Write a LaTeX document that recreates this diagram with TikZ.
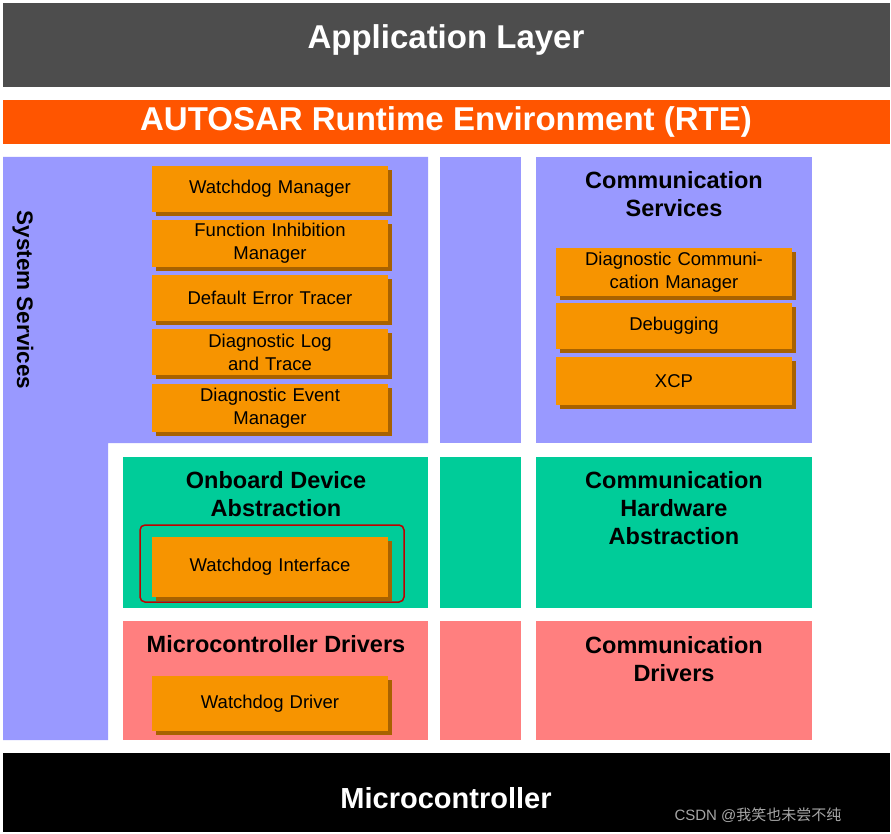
\documentclass[tikz,border=0pt]{standalone}
\usepackage{fontspec}
\setmainfont{Liberation Sans}
\newfontfamily\cjk{Noto Sans CJK SC}
\definecolor{appg}{HTML}{4D4D4D}
\definecolor{rte}{HTML}{FF5500}
\definecolor{purp}{HTML}{9999FF}
\definecolor{grn}{HTML}{00CC99}
\definecolor{pnk}{HTML}{FF7F7F}
\definecolor{org}{HTML}{F79400}
\definecolor{orgd}{HTML}{A86200}
\begin{document}
\begin{tikzpicture}[x=1pt,y=-1pt,
  box/.style={fill=org,draw=none,minimum width=236pt,text width=234pt,align=center,inner sep=0pt,font=\fontsize{18.5}{23}\selectfont},
  head/.style={align=center,font=\fontsize{23.5}{28}\selectfont\bfseries},
  big/.style={font=\fontsize{33}{38}\selectfont\bfseries,text=white}]
\useasboundingbox (0,0) rectangle (891,834);
\fill[white] (0,0) rectangle (891,834);
\fill[appg] (3,3) rectangle (890,87);
\node[big] (app) at (446,40) {Application Layer};
\fill[rte] (3,100) rectangle (890,144);
\node[big,font=\fontsize{33}{36}\selectfont\bfseries] (rtel) at (446,122) {AUTOSAR Runtime Environment (RTE)};
\fill[purp] (3,157) -- (428,157) -- (428,443) -- (108,443) -- (108,740) -- (3,740) -- cycle;
\node[rotate=-90,font=\fontsize{22.5}{26}\selectfont\bfseries] (ss) at (23,300) {System Services};
\fill[purp] (440,157) rectangle (521,443);
\fill[purp] (536,157) rectangle (812,443);
\fill[grn] (123,457) rectangle (428,608);
\fill[grn] (440,457) rectangle (521,608);
\fill[grn] (536,457) rectangle (812,608);
\fill[pnk] (123,621) rectangle (428,740);
\fill[pnk] (440,621) rectangle (521,740);
\fill[pnk] (536,621) rectangle (812,740);
\fill[black] (3,753) rectangle (890,832);
\node[big,font=\fontsize{29}{33}\selectfont\bfseries] (mc) at (446,798) {Microcontroller};
% orange boxes
\foreach \n/\x/\ya/\yb/\t in {
  wm/152/166/212/{Watchdog Manager},
  fim/152/220/267/{Function Inhibition\\Manager},
  det/152/275/321/{Default Error Tracer},
  dlt/152/329/375/{Diagnostic Log\\and Trace},
  dem/152/384/432/{Diagnostic Event\\Manager},
  dcm/556/248/296/{Diagnostic Communi-\\cation Manager},
  dbg/556/303/349/{Debugging},
  xcp/556/357/405/{XCP},
  wdi/152/537/597/{Watchdog Interface},
  wdd/152/676/731/{Watchdog Driver}}{
  \fill[orgd] (\x+4,\ya+4) rectangle (\x+240,\yb+4);
  \node[box,minimum height=\yb-\ya] (\n) at (\x+118,{(\ya+\yb)/2}) {\t};
}
\node[draw=red!75!black,line width=1.5pt,rounded corners=5pt,minimum width=264pt,minimum height=77pt] (wdframe) at (272,563.5) {};
\node[head] (cs) at (674,194) {Communication\\Services};
\node[head] (oda) at (276,494) {Onboard Device\\Abstraction};
\node[head] (cha) at (674,508) {Communication\\Hardware\\Abstraction};
\node[head] (mcd) at (276,644) {Microcontroller Drivers};
\node[head] (cd) at (674,659) {Communication\\Drivers};
\node[text=gray!70,font=\fontsize{15}{18}\selectfont] (wm2) at (758,815) {CSDN @{\cjk 我笑也未尝不纯}};
\end{tikzpicture}
\end{document}
